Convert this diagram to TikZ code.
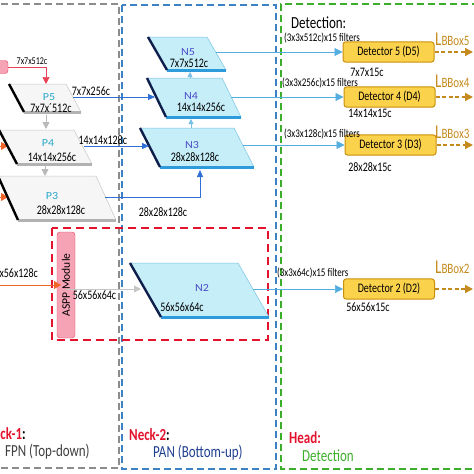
\documentclass[tikz,border=0pt]{standalone}
\usepackage{fontspec}
\setmainfont{Carlito}
\usetikzlibrary{arrows.meta,calc}

\definecolor{neckred}{HTML}{E3122D}
\definecolor{fpngray}{HTML}{8C8C8C}
\definecolor{panblue}{HTML}{3C82C4}
\definecolor{headgreen}{HTML}{3DAE2B}
\definecolor{pancyan}{HTML}{C6EEF9}
\definecolor{panedge}{HTML}{74C3E2}
\definecolor{panbase}{HTML}{2E9BDB}
\definecolor{planeside}{HTML}{0D1F4A}
\definecolor{lateralblue}{HTML}{2F6FD6}
\definecolor{feedblue}{HTML}{55AEE0}
\definecolor{detfill}{HTML}{FAD24C}
\definecolor{detedge}{HTML}{C8900A}
\definecolor{bboxgold}{HTML}{C58A1E}
\definecolor{backorange}{HTML}{F0662A}
\definecolor{asppink}{HTML}{F6A3B6}
\definecolor{labelviolet}{HTML}{4B4BC8}
\definecolor{labelcyan}{HTML}{2BA6CC}
\definecolor{pantext}{HTML}{1F3F8F}

% one feature map drawn as a slanted sheet
\newcommand{\layer}[7]{%
  \coordinate (#1-a) at (#3,#5);
  \coordinate (#1-b) at (#4,#5);
  \coordinate (#1-c) at ({#4+#6},#7);
  \coordinate (#1-d) at ({#3+#6},#7);
  \filldraw[#2] (#1-a) -- (#1-b) -- (#1-c) -- (#1-d) -- cycle;
  \draw[#2 base] (#1-d) -- (#1-c);
  \draw[#2 side] (#1-d) -- (#1-a);
}

\begin{document}
\begin{tikzpicture}[x=1pt, y=-1pt,
    tall/.style = {yscale=1.3},
    fpn/.style = {fill=gray!7, draw=gray!45, line width=0.5pt},
    fpn base/.style = {draw=gray!60, line width=3pt},
    fpn side/.style = {draw=black, line width=2.4pt},
    pan/.style = {fill=pancyan, draw=panedge, line width=0.5pt},
    pan base/.style = {draw=panbase, line width=3pt},
    pan side/.style = {draw=planeside, line width=2.4pt},
    fpnbox/.style = {draw=fpngray, line width=1.3pt, dash pattern=on 7pt off 4pt},
    panbox/.style = {draw=panblue, line width=1.3pt, dash pattern=on 7pt off 4pt},
    headbox/.style = {draw=headgreen, line width=1.3pt, dash pattern=on 7pt off 4pt},
    asppbox/.style = {draw=neckred, line width=2pt, dash pattern=on 8pt off 5pt},
    dims/.style = {tall, font=\fontsize{10}{12}\selectfont, inner sep=1pt},
    tinydims/.style = {tall, font=\fontsize{8}{10}\selectfont, inner sep=1pt},
    filt/.style = {tall, font=\fontsize{9}{11}\selectfont, inner sep=0pt},
    pname/.style = {yscale=0.9, font=\fontsize{12}{12}\selectfont, text=labelcyan, inner sep=0pt},
    nname/.style = {yscale=0.9, font=\fontsize{12}{12}\selectfont, text=labelviolet, inner sep=0pt},
    part/.style = {tall, font=\fontsize{13}{16}\selectfont\bfseries, text=neckred, inner sep=0pt},
    caption/.style = {tall, font=\fontsize{13}{15}\selectfont, anchor=west, inner sep=0pt},
    detector/.style = {tall, draw=detedge, fill=detfill, line width=1pt, rounded corners=2.5pt,
      minimum width=91pt, minimum height=15.4pt, inner sep=0pt, font=\fontsize{10}{12}\selectfont},
    aspp/.style = {draw=neckred!80, fill=asppink, rounded corners=3pt, rotate=90,
      minimum width=106pt, minimum height=18pt, inner sep=0pt, font=\fontsize{11.5}{13}\selectfont},
    backbone/.style = {draw=neckred!80, fill=asppink, rounded corners=3pt,
      minimum width=16pt, minimum height=13pt, inner sep=0pt},
    lateral/.style = {draw=lateralblue, line width=0.8pt, -{Triangle[length=7pt,width=6pt]}},
    climb/.style = {draw=feedblue!80, line width=0.8pt, -{Triangle[length=5pt,width=5pt]}},
    topdown/.style = {draw=gray!55, line width=0.8pt, -{Triangle[length=7pt,width=7pt]}},
    feed/.style = {draw=feedblue, line width=0.7pt, -{Triangle[length=8pt,width=8pt]}},
    redfeed/.style = {draw=neckred!80, line width=0.7pt, -{Triangle[length=7pt,width=7pt]}},
    orangefeed/.style = {draw=backorange, line width=1pt, -{Triangle[length=7pt,width=8pt]}},
    bridge/.style = {draw=gray!45, line width=0.8pt, -{Triangle[length=7pt,width=7pt]}},
    bboxarrow/.style = {draw=bboxgold, line width=1.4pt, dash pattern=on 4pt off 2.5pt,
      -{Triangle[length=8pt,width=8pt]}},
    bboxlbl/.style = {tall, text=bboxgold, inner sep=0pt}
    ]
    \useasboundingbox (0,0) rectangle (474,474);

    % stage frames
    \draw[fpnbox] (-10,4) -- (119,4) -- (119,468) -- (-10,468);
    \draw[panbox] (122,5) rectangle (276,469);
    \draw[headbox] (490,4) -- (281,4) -- (281,469) -- (490,469);
    \draw[asppbox] (52,228) rectangle (268,340);

    % backbone inputs
    \coordinate (bk4) at (-12,146);
    \coordinate (bk3) at (-12,197);
    \coordinate (bk2) at (-12,285);
    \draw[orangefeed] (bk4) -- (8,146);
    \draw[orangefeed] (bk3) -- (8,197);
    \node[backbone] (bb5) at (0,67) {};

    % FPN
    \layer{P5}{fpn}{9}{66}{84}{15}{112}
    \layer{P4}{fpn}{-1}{74}{130}{18}{164}
    \layer{P3}{fpn}{-2}{96}{176}{20}{220}
    \node[pname] (P5name) at (49,97) {P5};
    \node[dims] (P5dim) at (51,108) {7x7x´512c};
    \node[pname] (P4name) at (48,143) {P4};
    \node[dims] (P4dim) at (52,157) {14x14x256c};
    \node[pname] (P3name) at (52,196) {P3};
    \node[dims] (P3dim) at (61,210) {28x28x128c};

    \coordinate (P5-in) at (46,84);
    \draw[redfeed] (bb5.east) -| (P5-in);
    \node[tinydims] (bb5dim) at (32,61) {7x7x512c};

    \coordinate (P5-bot) at (46,115);
    \coordinate (P4-top) at (46,129);
    \coordinate (P4-bot) at (45,166);
    \coordinate (P3-top) at (45,176);
    \draw[topdown] (P5-bot) -- (P4-top);
    \draw[topdown] (P4-bot) -- (P3-top);

    % ASPP
    \node[aspp] (ASPP) at (66,285) {ASPP Module};
    \draw[orangefeed, shorten >=5pt] (bk2) -- (bk2 -| ASPP.west);
    \node[dims, anchor=east] (bk2dim) at (39,273) {56x56x128c};

    % PAN
    \layer{N5}{pan}{148}{207}{37}{19}{70}
    \layer{N4}{pan}{147}{222}{78}{19}{117}
    \layer{N3}{pan}{140}{234}{128}{20}{167}
    \layer{N2}{pan}{130}{238}{263}{31}{317}
    \node[nname] (N5name) at (188,52) {N5};
    \node[dims] (N5dim) at (189,63) {7x7x512c};
    \node[nname] (N4name) at (191,96) {N4};
    \node[dims] (N4dim) at (201,107) {14x14x256c};
    \node[nname] (N3name) at (192,145) {N3};
    \node[dims] (N3dim) at (195,157) {28x28x128c};
    \node[nname] (N2name) at (202,288) {N2};
    \node[dims] (N2dim) at (182,307) {56x56x64c};

    \coordinate (P5-out) at (73,97);
    \coordinate (N4-in) at (155,97);
    \coordinate (P4-out) at (84,146);
    \coordinate (N3-in) at (149,146);
    \coordinate (P3-out) at (105,197);
    \coordinate (N3-under) at (200,170);
    \coordinate (N2-in) at (141,289);
    \draw[lateral] (P5-out) -- node[dims, pos=0.22, above] {7x7x256c} (N4-in);
    \draw[lateral] (P4-out) -- node[dims, pos=0.29, above] {14x14x128c} (N3-in);
    \draw[lateral] (P3-out) -| (N3-under);
    \node[dims] (P3lat) at (163,212) {28x28x128c};
    \draw[bridge] (N2-in -| ASPP.east) -- node[dims, pos=0.38, below] {56x56x64c} (N2-in);

    \coordinate (N3-top) at (191,128);
    \coordinate (N4-bot) at (191,119);
    \coordinate (N4-top) at (190,78);
    \coordinate (N5-bot) at (190,72);
    \draw[climb] (N3-top) -- (N4-bot);
    \draw[climb] (N4-top) -- (N5-bot);

    % head
    \node[caption] (headtitle) at (291,23) {Detection:};
    \node[detector] (D5) at (388.5,52) {Detector 5 (D5)};
    \node[detector] (D4) at (389.5,97) {Detector 4 (D4)};
    \node[detector] (D3) at (390.5,145) {Detector 3 (D3)};
    \node[detector] (D2) at (389,289) {Detector 2 (D2)};
    \node[dims] (D5dim) at (367,72) {7x7x15c};
    \node[dims] (D4dim) at (370,113) {14x14x15c};
    \node[dims] (D3dim) at (370,167) {28x28x15c};
    \node[dims] (D2dim) at (368,307) {56x56x15c};

    \coordinate (N5-out) at (216,52);
    \coordinate (N4-out) at (231,97);
    \coordinate (N3-out) at (243,145);
    \coordinate (N2-out) at (253,289);
    \draw[feed] (N5-out) -- (D5);
    \draw[feed] (N4-out) -- (D4);
    \draw[feed] (N3-out) -- (D3);
    \draw[feed] (N2-out) -- (D2);
    \node[filt, anchor=west] (f5) at (284,38) {(3x3x512c)x15 filters};
    \node[filt, anchor=west] (f4) at (282,83) {(3x3x256c)x15 filters};
    \node[filt, anchor=west] (f3) at (284,134) {(3x3x128c)x15 filters};
    \node[filt, anchor=west] (f2) at (277,273) {(3x3x64c)x15 filters};

    \coordinate (L5-end) at (473,52);
    \coordinate (L4-end) at (473,97);
    \coordinate (L3-end) at (473,145);
    \coordinate (L2-end) at (473,289);
    \draw[bboxarrow] (D5) -- (L5-end);
    \draw[bboxarrow] (D4) -- (L4-end);
    \draw[bboxarrow] (D3) -- (L3-end);
    \draw[bboxarrow] (D2) -- (L2-end);
    \node[bboxlbl, anchor=base west] (L5) at (435,45) {\fontsize{15}{15}\selectfont L\fontsize{11}{11}\selectfont BBox5};
    \node[bboxlbl, anchor=base west] (L4) at (435,87) {\fontsize{15}{15}\selectfont L\fontsize{11}{11}\selectfont BBox4};
    \node[bboxlbl, anchor=base west] (L3) at (435,138) {\fontsize{15}{15}\selectfont L\fontsize{11}{11}\selectfont BBox3};
    \node[bboxlbl, anchor=base west] (L2) at (435,273) {\fontsize{15}{15}\selectfont L\fontsize{11}{11}\selectfont BBox2};

    % stage captions
    \node[part, anchor=east] (neck1) at (26,434) {Neck-1\textcolor{black}{:}};
    \node[caption, text=black!75] (fpncap) at (5,452) {FPN (Top-down)};
    \node[part, anchor=west] (neck2) at (129,435) {Neck-2\textcolor{black}{:}};
    \node[caption, text=pantext] (pancap) at (153,453) {PAN (Bottom-up)};
    \node[part, anchor=west] (head) at (289,438) {Head:};
    \node[caption, text=headgreen] (headcap) at (302,456) {Detection};
\end{tikzpicture}
\end{document}
